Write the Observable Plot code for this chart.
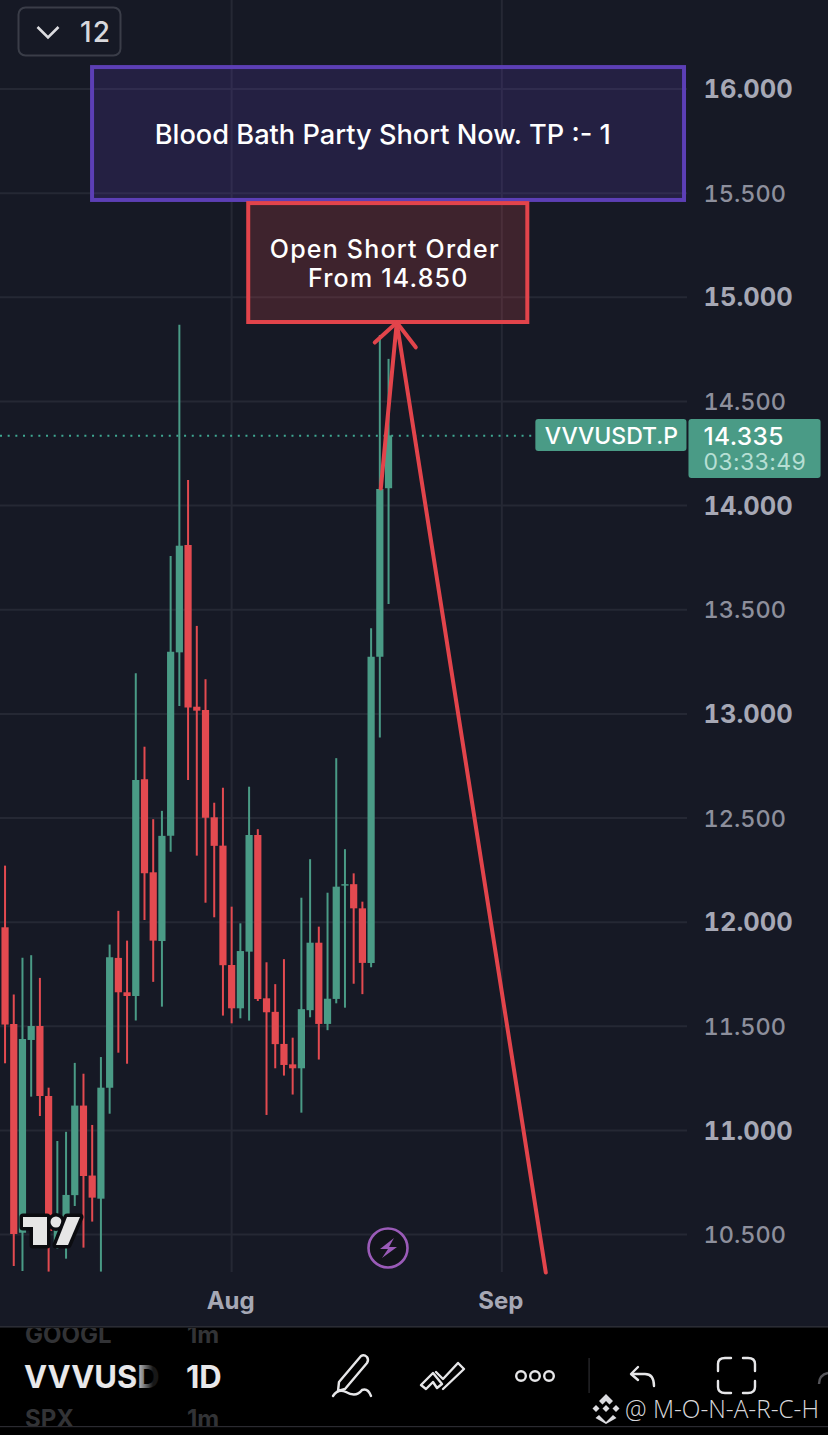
<!DOCTYPE html>
<html>
<head>
<meta charset="utf-8">
<script src="https://cdn.jsdelivr.net/npm/d3@7"></script>
<script src="https://cdn.jsdelivr.net/npm/@observablehq/plot@0.6"></script>
<style>
  html, body { margin: 0; padding: 0; background: #161925; }
  #stage { position: relative; width: 828px; height: 1435px; overflow: hidden; font-family: Inter, sans-serif; }
  #stage > svg { position: absolute; left: 0; top: 0; display: block; }
  .spaced text { letter-spacing: 1.2px; }
  .spaced-small text { letter-spacing: 0.4px; }
</style>
</head>
<body>
<div id="stage"></div>
<script>
const firstDay = "2025-07-06";
const opens  = [11.973,11.509,10.506,11.432,11.499,11.163,10.458,10.486,10.687,11.117,10.781,10.670,11.203,11.826,11.661,11.643,12.684,12.237,11.907,12.412,13.293,13.809,13.032,13.016,12.501,12.365,11.792,11.584,11.856,12.416,11.632,11.567,11.413,11.315,11.296,11.575,11.899,11.509,11.629,12.173,12.180,12.064,11.802,13.272,14.081];
const highs  = [12.269,11.650,11.827,11.839,11.730,11.203,10.947,10.991,11.322,11.270,11.024,11.350,11.890,12.052,11.909,13.193,12.840,12.492,12.532,13.756,14.866,14.121,13.420,13.164,12.571,12.643,12.072,11.992,12.648,12.444,11.805,11.700,11.820,11.443,12.115,12.300,11.976,12.139,12.785,12.348,12.232,12.096,13.409,14.817,14.702];
const lows   = [11.320,10.347,10.323,11.160,11.067,10.320,10.429,10.382,10.635,10.435,10.560,10.320,11.078,11.371,11.318,11.525,12.008,11.711,11.592,12.336,13.036,12.680,12.317,12.091,12.021,11.549,11.512,11.536,11.525,11.619,11.072,11.296,11.261,11.170,11.083,11.541,11.338,11.479,11.608,11.587,11.702,11.652,11.781,12.884,13.525];
const closes = [11.506,10.501,11.437,11.499,11.163,10.515,10.582,10.688,11.117,10.779,10.675,11.203,11.829,11.661,11.643,12.680,12.232,11.909,12.412,13.296,13.805,13.028,13.013,12.499,12.364,11.791,11.584,11.859,12.416,11.629,11.565,11.412,11.312,11.296,11.580,11.899,11.509,11.630,12.168,12.180,12.064,11.802,13.272,14.077,14.335];

const wholeTicks = [11, 12, 13, 14, 15, 16];
const halfTicks = [10.5, 11.5, 12.5, 13.5, 14.5, 15.5];
const monthTicks = ["2025-08-01", "2025-09-01"];
const lastPrice = 14.335;

const d = s => new Date(s + "Z");
const candles = opens.map((o, i) => ({
  date: d3.utcDay.offset(new Date(firstDay + "T00:00:00Z"), i),
  open: o, high: highs[i], low: lows[i], close: closes[i], up: closes[i] >= o
}));

const GREEN = "#4a9b86", RED = "#e34a50", BG = "#161925", GRID = "#252834";
const axisLight = "#8d8f9c", axisBold = "#a6a8b5";
const candleColor = c => c.up ? GREEN : RED;

const purpleBox = [{x1: d("2025-07-16T01:00:00"), x2: d("2025-09-21T23:00:00"), y1: 16.103, y2: 15.465}];
const redBox = [{x1: d("2025-08-02T23:00:00"), x2: d("2025-09-03T23:30:00"), y1: 15.450, y2: 14.879}];
const arrowShaft = [
  {x: d("2025-08-18T02:40:00"), y: 14.082},
  {x: d("2025-08-19T22:40:00"), y: 14.879},
  {x: d("2025-09-06T01:00:00"), y: 10.318}
];
const arrowHead = [
  {x: d("2025-08-17T10:00:00"), y: 14.783},
  {x: d("2025-08-19T22:40:00"), y: 14.879},
  {x: d("2025-08-22T03:00:00"), y: 14.760}
];
const symbolTag = [{x1: d("2025-09-04T21:36:00"), x2: d("2025-09-22T05:45:00"), y1: 14.413, y2: 14.260}];
const priceTag = [{x1: d("2025-09-22T11:15:00"), x2: d("2025-10-07T15:00:00"), y1: 14.413, y2: 14.130}];

const chart = Plot.plot({
  width: 828,
  height: 1435,
  marginLeft: 0,
  marginTop: 0,
  marginRight: 141,
  marginBottom: 163,
  style: {background: BG, fontFamily: "Inter, sans-serif"},
  x: {type: "utc", domain: [d("2025-07-05T11:30:00"), d("2025-09-22T07:12:00")], range: [0, 687]},
  y: {domain: [10.318, 16.425], range: [1272, 0]},
  marks: [
    Plot.gridY([...wholeTicks, ...halfTicks], {stroke: GRID, strokeOpacity: 1, strokeWidth: 2}),
    Plot.gridX(monthTicks.map(d), {stroke: GRID, strokeOpacity: 1, strokeWidth: 2}),
    Plot.axisY(wholeTicks, {anchor: "right", tickSize: 0, tickPadding: 16, tickFormat: v => v.toFixed(3), label: null,
      fontSize: 25.5, fontWeight: 700, fill: axisBold, textAnchor: "start", dy: 1}),
    Plot.axisY(halfTicks, {anchor: "right", tickSize: 0, tickPadding: 16, tickFormat: v => v.toFixed(3), label: null,
      fontSize: 23.5, fontWeight: 500, fill: axisLight, textAnchor: "start", dy: 1}),
    Plot.axisX(monthTicks.map(d), {anchor: "bottom", tickSize: 0, tickPadding: 19, tickFormat: d3.utcFormat("%b"), label: null,
      fontSize: 24, fontWeight: 700, fill: axisBold, dx: -1}),
    Plot.ruleY([lastPrice], {x1: d("2025-07-05T11:30:00"), x2: d("2025-09-04T21:36:00"), stroke: "#3fa892", strokeWidth: 2, strokeDasharray: "2 5.67"}),
    Plot.ruleX(candles, {x: "date", y1: "low", y2: "high", stroke: candleColor, strokeWidth: 2}),
    Plot.ruleX(candles, {x: "date", y1: "open", y2: "close", stroke: candleColor, strokeWidth: 7.2}),
    Plot.rect(purpleBox, {x1: "x1", x2: "x2", y1: "y1", y2: "y2", fill: "#5f3db8", fillOpacity: 0.2, stroke: "#5c3fb5", strokeWidth: 4}),
    Plot.rect(redBox, {x1: "x1", x2: "x2", y1: "y1", y2: "y2", fill: "#e34a50", fillOpacity: 0.2, stroke: "#e2444b", strokeWidth: 4}),
    Plot.line(arrowShaft, {x: "x", y: "y", stroke: "#e2444b", strokeWidth: 4, strokeLinejoin: "round"}),
    Plot.line(arrowHead, {x: "x", y: "y", stroke: "#e2444b", strokeWidth: 4, strokeLinejoin: "round"}),
    Plot.text(["Blood Bath Party Short Now. TP :- 1"], {x: d("2025-08-18T08:00:00"), y: 15.777, fill: "#fff", fontSize: 27.2, fontWeight: 500}),
    Plot.text(["Open Short Order"], {x: d("2025-08-18T13:40:00"), y: 15.225, fill: "#fff", fontSize: 25, fontWeight: 500, className: "spaced"}),
    Plot.text(["From 14.850"], {x: d("2025-08-18T23:15:00"), y: 15.088, fill: "#fff", fontSize: 25, fontWeight: 500, className: "spaced"}),
    Plot.rect(symbolTag, {x1: "x1", x2: "x2", y1: "y1", y2: "y2", fill: GREEN, rx: 3}),
    Plot.rect(priceTag, {x1: "x1", x2: "x2", y1: "y1", y2: "y2", fill: GREEN, rx: 3}),
    Plot.text(["VVVUSDT.P"], {x: d("2025-09-13T13:40:00"), y: lastPrice, fill: "#fff", fontSize: 23, fontWeight: 500, dy: 1}),
    Plot.text(["14.335"], {x: d("2025-09-24T03:00:00"), y: lastPrice, textAnchor: "start", fill: "#fff", fontSize: 24.5, fontWeight: 500, dy: 1, className: "spaced-small"}),
    Plot.text(["03:33:49"], {x: d("2025-09-24T03:00:00"), y: 14.205, textAnchor: "start", fill: "#b6dfd4", fontSize: 23, fontWeight: 400, className: "spaced-small"})
  ]
});
document.getElementById("stage").appendChild(chart);

const overlay = `
<svg xmlns="http://www.w3.org/2000/svg" width="828" height="1435" viewBox="0 0 828 1435" font-family="Inter, sans-serif">
  <defs>
    <linearGradient id="fade" gradientUnits="userSpaceOnUse" x1="122" x2="153" y1="0" y2="0">
      <stop offset="0" stop-color="#e8e8ea"/><stop offset="0.4" stop-color="#e8e8ea"/><stop offset="1" stop-color="#e8e8ea" stop-opacity="0.1"/>
    </linearGradient>
    <clipPath id="bar"><rect x="0" y="1328" width="828" height="98"/></clipPath>
  </defs>
  <!-- interval widget -->
  <rect x="18.5" y="7.5" width="102" height="48" rx="7" fill="${BG}" stroke="#3a3d48" stroke-width="2"/>
  <path d="M37.5 27 L48 37.5 L58.5 27" fill="none" stroke="#dcdce0" stroke-width="2.6"/>
  <text x="95.5" y="41.5" text-anchor="middle" font-size="28" font-weight="500" fill="#d8d8dc" letter-spacing="1">12</text>
  <!-- TradingView logo -->
  <g stroke="#0b0c10" stroke-width="7" paint-order="stroke" stroke-linejoin="round" fill="#e6e6e6">
    <path d="M23 1217 H47 V1245 H33 V1227 H23 Z"/>
    <circle cx="56" cy="1222" r="5.5"/>
    <path d="M67 1217 H80 L68 1245 H56 Z"/>
  </g>
  <!-- flash icon -->
  <circle cx="388" cy="1248" r="19.5" fill="#12141b" stroke="#9a5bb8" stroke-width="2.6"/>
  <path d="M394 1238 L380 1249 H388 L382 1258 L397 1247 H389 Z" fill="#9a5bb8"/>
  <!-- bottom toolbar -->
  <rect x="0" y="1327" width="828" height="108" fill="#000"/>
  <rect x="0" y="1326" width="828" height="1.6" fill="#2a2c34"/>
  <rect x="0" y="1426" width="828" height="1.2" fill="#2a2a30"/>
  <g clip-path="url(#bar)" font-weight="700" font-size="24" fill="#323336">
    <text x="25" y="1343">GOOGL</text><text x="187" y="1343">1m</text>
    <text x="25" y="1427">SPX</text><text x="187" y="1427">1m</text>
  </g>
  <g font-weight="700" font-size="31" fill="#e8e8ea">
    <text x="24" y="1388" fill="url(#fade)">VVVUSD</text>
    <text x="186" y="1388">1D</text>
  </g>
  <g fill="none" stroke="#e6e6e8" stroke-width="2.4" stroke-linecap="round" stroke-linejoin="round">
    <path d="M339 1382 L361 1356 Q364 1354 367 1357 Q369 1360 367 1363 L345 1389 L338 1391 Z"/>
    <path d="M333 1396 Q338 1388 346 1392 Q356 1398 362 1390 Q368 1388 371 1396"/>
    <path d="M421 1385 L433 1373 L442 1384 L437 1388 L433 1382 L426 1389 Z"/>
    <path d="M436 1372 L443 1379 L458 1363 L464 1369 L443 1389"/>
    <circle cx="521" cy="1376" r="4.8"/><circle cx="535" cy="1376" r="4.8"/><circle cx="549" cy="1376" r="4.8"/>
    <path d="M638 1367 L631 1374 L638 1380"/><path d="M632 1374 H645 Q654 1374 654 1386"/>
    <path d="M718 1371 V1364 Q718 1358 725 1358 H731"/><path d="M743 1358 H748 Q755 1358 755 1364 V1371"/>
    <path d="M718 1381 V1387 Q718 1393 725 1393 H731"/><path d="M743 1393 H748 Q755 1393 755 1387 V1381"/>
  </g>
  <path d="M819 1384 Q819 1375 828 1373" fill="none" stroke="#55555a" stroke-width="2.4"/>
  <rect x="588.5" y="1358" width="1.2" height="35" fill="#2c2c30"/>
  <!-- watermark -->
  <g fill="#dcdce0">
    <path d="M606 1394 L613 1401 L609.5 1404.5 L606 1401 L602.5 1404.5 L599 1401 Z"/>
    <path d="M606 1405 L609.5 1408.5 L606 1412 L602.5 1408.5 Z"/>
    <path d="M596 1405 L599.5 1408.5 L596 1412 L592.5 1408.5 Z"/>
    <path d="M616 1405 L619.5 1408.5 L616 1412 L612.5 1408.5 Z"/>
    <path d="M599 1415 L606 1422 L613 1415 L616.5 1418 L606 1424 L595.5 1418 Z"/>
  </g>
  <text x="625" y="1417.5" font-family="Open Sans, sans-serif" font-size="25" font-weight="300" fill="#d8d8dc" textLength="194" lengthAdjust="spacingAndGlyphs">@ M-O-N-A-R-C-H</text>
</svg>`;
document.getElementById("stage").insertAdjacentHTML("beforeend", overlay);
</script>
</body>
</html>
